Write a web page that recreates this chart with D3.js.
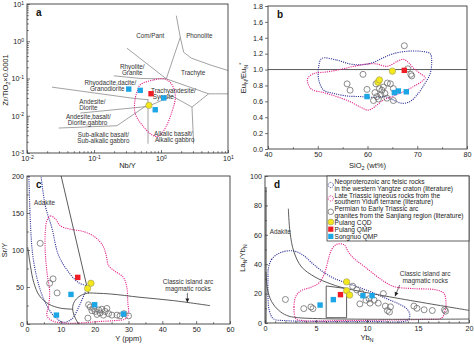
<!DOCTYPE html>
<html>
<head>
<meta charset="utf-8">
<script src="https://cdn.jsdelivr.net/npm/d3@7"></script>
<style>
    body { margin: 0; background: #fff; }
    svg { display: block; font-family: "Liberation Sans", Arial, sans-serif; }
</style>
</head>
<body>
<svg id="chart" width="474" height="345"></svg>
<script>
// ---- panel a: Zr/TiO2*0.0001 vs Nb/Y ----
const aBlue = [[0.33, 0.052], [0.49, 0.048], [1.10, 0.030], [0.82, 0.0145]];
const aRed = [[0.71, 0.039]];
const aYellow = [[0.66, 0.019]];
const aYidun = [[0.49, 0.068], [0.78, 0.092], [1.16, 0.096], [1.46, 0.068], [1.64, 0.033], [1.46, 0.013],
    [1.16, 0.0047], [0.92, 0.0028], [0.73, 0.0031], [0.52, 0.0057], [0.41, 0.0118], [0.41, 0.027], [0.45, 0.050]];
const aFieldLines = [
    [[1.69, 4.87], [1.94, 1.28]],
    [[1.94, 1.28], [2.18, 0.507], [2.84, 0.351], [5.77, 0.223], [10, 0.164]],
    [[1.94, 1.28], [1.20, 0.098]],
    [[0.311, 0.65], [1.20, 0.098]],
    [[0.197, 0.118], [0.5, 0.1], [1.20, 0.098]],
    [[1.20, 0.098], [5.14, 0.0388], [10, 0.0388]],
    [[0.0236, 0.0586], [0.369, 0.0297], [0.64, 0.0268]],
    [[0.0625, 0.0118], [0.64, 0.0178], [1.46, 0.034]],
    [[0.0297, 0.00468], [0.22, 0.0054], [0.64, 0.020]],
    [[0.64, 0.028], [0.64, 0.00178]],
    [[1.46, 0.034], [2.90, 0.0171], [5.14, 0.0388]],
    [[2.90, 0.0171], [3.07, 0.00178]]
];
const aFieldNames = [
    ['Com/Pant', 0.69, 1.39], ['Phonolite', 3.73, 1.39], ['Rhyolite/', 0.373, 0.205], ['Granite', 0.373, 0.142],
    ['Trachyte', 3.03, 0.142], ['Rhyodacite,dacite/', 0.175, 0.0766], ['Granodiorite', 0.158, 0.0528],
    ['Trachyandesite/', 1.53, 0.0467], ['Syenite', 1.08, 0.0323], ['Andesite/', 0.0944, 0.0237],
    ['Diorite', 0.0822, 0.0164], ['Andesite,basalt/', 0.0822, 0.0094], ['Diorite,gabbro', 0.08, 0.0065],
    ['Sub-alkalic basalt/', 0.138, 0.0031], ['Sub-alkalic gabbro', 0.138, 0.00214],
    ['Alkalic basalt/', 1.53, 0.0033], ['Alkalic gabbro', 1.6, 0.00228]
];
const aTicksX = [0.01, 0.1, 1, 10];
const aTicksY = [0.001, 0.01, 0.1, 1, 10];

// ---- panel b: Eu/Eu* vs SiO2 ----
const bGrey = [[67.4, 1.30], [59.1, 0.94], [55.9, 0.82], [56.5, 0.74], [59.9, 0.75], [68.1, 1.01], [68.7, 0.94],
    [68.9, 0.92], [64.6, 0.82], [65.2, 0.76], [65.2, 0.61], [61.5, 0.71], [61.9, 0.66], [62.2, 0.63], [62.9, 0.74],
    [63.2, 0.78], [63.5, 0.70], [63.9, 0.64], [62.7, 0.68], [62.4, 0.76], [61.2, 0.61], [61.7, 0.82], [64.0, 0.83]];
const bYellow = [[62.1, 0.84], [62.4, 0.87], [65.0, 0.98]];
const bRed = [[67.4, 0.99]];
const bBlue = [[59.9, 0.66], [65.4, 0.71], [66.2, 0.73], [67.8, 0.72]];
const bYangtze = [[50.8, 1.14], [53.8, 1.12], [56.5, 1.07], [58.9, 1.06], [61.2, 1.09], [63.2, 1.15], [65.2, 1.20],
    [67.9, 1.23], [70.6, 1.23], [72.6, 1.20], [72.9, 1.10], [72.6, 0.95], [71.6, 0.83], [70.2, 0.70], [68.6, 0.60],
    [66.9, 0.575], [65.2, 0.617], [63.5, 0.66], [61.2, 0.65], [58.5, 0.66], [55.9, 0.667], [53.2, 0.70],
    [51.2, 0.74], [50.2, 0.87], [50.2, 1.04]];
const bYidun = [[48.0, 0.89], [49.2, 0.95], [51.8, 0.97], [54.5, 1.00], [57.2, 1.04], [59.9, 1.07], [61.9, 1.07],
    [63.9, 1.04], [66.2, 1.11], [67.2, 1.13], [68.2, 1.09], [69.2, 1.02], [70.6, 0.95], [71.6, 0.90], [70.9, 0.85],
    [69.2, 0.785], [67.2, 0.72], [65.2, 0.667], [63.2, 0.617], [61.9, 0.554], [60.2, 0.49], [58.5, 0.53],
    [56.5, 0.596], [53.8, 0.66], [51.2, 0.71], [48.8, 0.75], [48.0, 0.83]];
const bTicksX = [40, 50, 60, 70, 80];
const bTicksY = [0, 0.2, 0.4, 0.6, 0.8, 1.0, 1.2, 1.4, 1.6, 1.8];

// ---- panel c: Sr/Y vs Y ----
const cGrey = [[3.9, 109], [7.7, 61], [6.7, 55], [8.9, 42], [18.0, 8], [18.2, 26], [18.7, 23], [19.7, 21],
    [20.2, 17], [21.2, 19], [20.7, 13], [22.1, 20], [21.6, 15], [23.1, 17], [23.6, 21], [24.1, 14], [25.1, 12],
    [26.6, 12], [27.5, 11], [28.7, 14], [30.0, 11], [19.2, 18], [22.6, 12]];
const cYellow = [[18.9, 55], [17.9, 48]];
const cRed = [[15.0, 63]];
const cBlue = [[13.0, 40], [8.7, 12], [20.0, 26], [28.5, 13.5]];
const cYangtze = [[3.9, 210], [5.4, 160], [7.4, 129], [9.3, 93], [12.3, 70], [15.2, 56], [17.9, 50], [17.2, 43],
    [15.5, 25], [13.3, 7], [10.8, 2.3], [7.9, 11], [4.9, 34], [3.0, 61], [1.7, 93], [1.0, 138], [0.5, 210]];
const cYidun = [[5.9, 140], [6.9, 146], [8.4, 142], [9.8, 133], [12.8, 128], [16.7, 125], [20.2, 117], [22.4, 106],
    [23.4, 93], [24.1, 79], [26.1, 71], [28.5, 63], [29.5, 50], [29.8, 29], [30.0, 13.5], [29.0, 6.8], [25.6, 4.5],
    [20.7, 3.2], [15.7, 1.4], [10.8, 1.4], [7.4, 4.5], [5.9, 11], [6.4, 25], [6.7, 43], [5.9, 70], [5.4, 97], [5.4, 124]];
const cAdakiteLine = [[9.84, 205], [18.2, 41]];
const cLeftCurve = [[0.2, 104], [1.0, 79], [2.0, 56], [3.7, 38], [6.4, 27], [9.8, 21.5], [13.6, 20]];
const cArc = [[18.2, 42], [16.2, 39.3], [14.6, 33.9], [13.6, 25.7], [13.6, 16.7], [14.3, 7.7], [15.3, 0]];
const cArcLine = [[18.2, 42], [24.6, 40.6], [33.4, 36.1], [43.3, 31.6], [54.1, 24.8]];
const cArrow = [[47.4, 42], [47.4, 29]];
const cTicksX = [0, 10, 20, 30, 40, 50, 60];
const cTicksY = [0, 50, 100, 150, 200];

// ---- panel d: LaN/YbN vs YbN ----
const dGrey = [[2.0, 16], [3.8, 9.8], [4.5, 10.9], [4.7, 9.8], [8.6, 25], [9.0, 22.5], [9.4, 20.5], [9.3, 13],
    [9.9, 15.5], [10.2, 16.5], [10.3, 13.5], [10.7, 15.5], [11.1, 13.5], [11.6, 20], [11.8, 11.5], [12.0, 8.5],
    [12.2, 7.5], [12.3, 11], [14.6, 11.5], [14.9, 10], [15.6, 9], [16.4, 8.5], [17.6, 9], [17.7, 8]];
const dYellow = [[8.0, 28], [8.0, 22], [8.3, 19]];
const dRed = [[7.4, 19.3]];
const dBlue = [[5.4, 12.2], [6.7, 15.9], [9.6, 18.6], [10.5, 18.6]];
const dYangtze = [[0.33, 37.0], [0.65, 43.3], [1.31, 47.2], [2.12, 49.0], [2.94, 48.8], [3.76, 46.0], [4.58, 41.0],
    [5.56, 35.4], [6.70, 30.6], [8.0, 27.2], [9.31, 24.0], [10.6, 20.6], [11.9, 16.6], [13.2, 12.7], [13.95, 9.3],
    [14.2, 5.2], [13.95, 1.8], [10.3, 1.1], [5.4, 1.1], [2.12, 1.6], [0.82, 2.9], [0.42, 8.6], [0.29, 18.8], [0.29, 30.2]];
const dYidun = [[3.04, 2.9], [2.84, 10.9], [3.04, 18.4], [3.59, 22.2], [4.58, 24.5], [5.39, 27.9], [5.88, 34.7],
    [6.21, 43.3], [6.54, 50.1], [7.03, 53.5], [7.75, 53.3], [8.17, 48.3], [8.82, 43.3], [9.80, 38.1], [11.27, 30.2],
    [12.58, 24.9], [14.54, 23.4], [16.83, 22.5], [17.55, 20.0], [17.75, 13.2], [17.61, 7.5], [17.32, 3.4],
    [15.52, 2.5], [11.93, 2.0], [7.03, 1.6], [3.76, 1.6]];
const dAdakiteCurve = [[2.29, 77.8], [2.45, 61.9], [2.84, 48.3], [3.59, 38.1], [4.90, 31.3], [6.37, 26.8], [8.0, 23.4], [20, 8.6]];
const dLowerCurve = [[0.1, 34.7], [0.23, 23.4], [0.65, 14.5], [1.31, 8.8], [2.12, 5.2], [3.27, 3.6], [20, 2.7]];
const dAxisLine = [[0.1, 0], [0.1, 92.5]];
const dBox = [[6.0, 25.2], [8.0, 23.4], [8.0, 3.6], [6.0, 3.6], [6.0, 25.2]];
const dArrow = [[13.2, 25.9], [12.75, 18.2]];
const dTicksX = [0, 5, 10, 15, 20];
const dTicksY = [0, 20, 40, 60, 80, 100];

const legendItems = [
    { kind: 'yangtze', lines: ['Neoproterozoic arc felsic rocks', 'in the western Yangtze craton (literature)'] },
    { kind: 'yidun', lines: ['Late Triassic igneous rocks from the', 'southern Yidun terrane (literature)'] },
    { kind: 'grey', lines: ['Permian  to  Early  Triassic arc', 'granites from the  Sanjiang region (literature)'] },
    { kind: 'yellow', lines: ['Pulang CQD'] },
    { kind: 'red', lines: ['Pulang QMP'] },
    { kind: 'blue', lines: ['Songnuo QMP'] }
];

const COL = {
    blue: '#1ca6e6', red: '#ee1c24', yellow: '#f4e81c', grey: '#6f6f6f',
    yangtze: '#2b2f94', yidun: '#e01b84', line: '#4a4a4a', field: '#8a8a8a', frame: '#3a3a3a'
};

const svg = d3.select('#chart');
const defs = svg.append('defs');

function setupPanel(id, x, y) {
    const [x0, x1] = x.range();
    const [y1, y0] = y.range();
    defs.append('clipPath').attr('id', 'clip-' + id)
        .append('rect').attr('x', x0).attr('y', y0).attr('width', x1 - x0).attr('height', y1 - y0);
    const g = svg.append('g');
    const plot = g.append('g').attr('clip-path', `url(#clip-${id})`);
    return { id, g, plot, x, y, x0, x1, y0, y1 };
}

function styleAxis(sel) {
    sel.select('.domain').remove();
    sel.attr('font-family', null).attr('font-size', 7.2);
    sel.selectAll('.tick line').attr('stroke', COL.frame).attr('stroke-width', 0.7);
    sel.selectAll('.tick text').attr('fill', '#222');
}

function drawAxes(p, o) {
    const bx = p.g.append('g').attr('transform', `translate(0,${p.y1})`)
        .call(d3.axisBottom(p.x).tickValues(o.xTicks).tickSize(-3).tickPadding(3).tickFormat(o.xFormat || null))
        .call(styleAxis);
    const ly = p.g.append('g').attr('transform', `translate(${p.x0},0)`)
        .call(d3.axisLeft(p.y).tickValues(o.yTicks).tickSize(o.yOut ? 3 : -3).tickPadding(o.yOut ? 2 : 3)
            .tickFormat(o.yFormat || null))
        .call(styleAxis);
    if (o.xMinor) {
        p.g.append('g').attr('transform', `translate(0,${p.y1})`)
            .call(d3.axisBottom(p.x).tickValues(o.xMinor).tickSize(-1.8).tickFormat(''))
            .call(styleAxis);
    }
    if (o.yMinor) {
        p.g.append('g').attr('transform', `translate(${p.x0},0)`)
            .call(d3.axisLeft(p.y).tickValues(o.yMinor).tickSize(-1.8).tickFormat(''))
            .call(styleAxis);
    }
    p.g.append('rect')
        .attr('x', p.x0).attr('y', p.y0).attr('width', p.x1 - p.x0).attr('height', p.y1 - p.y0)
        .attr('fill', 'none').attr('stroke', COL.frame).attr('stroke-width', 0.9);
    return { bx, ly };
}

function powerLabels(axis) {
    axis.selectAll('.tick text').each(function(d) {
        const t = d3.select(this).text('10');
        t.append('tspan').attr('dy', '-0.45em').attr('font-size', 5).text(Math.round(Math.log10(d)));
    });
}

function logMinor(lo, hi) {
    const out = [];
    for (let e = lo; e < hi; e++) {
        for (let m = 2; m <= 9; m++) out.push(m * Math.pow(10, e));
    }
    return out;
}

function path(p, pts, curve, stroke, width, dash, layer) {
    const gen = d3.line().x(d => p.x(d[0])).y(d => p.y(d[1])).curve(curve || d3.curveLinear);
    return (layer || p.plot).append('path')
        .attr('d', gen(pts))
        .attr('fill', 'none')
        .attr('stroke', stroke)
        .attr('stroke-width', width)
        .attr('stroke-dasharray', dash || null)
        .attr('stroke-linejoin', 'round');
}

function dotted(p, pts, color, closed) {
    return path(p, pts, closed ? d3.curveCatmullRomClosed.alpha(0.5) : d3.curveCatmullRom.alpha(0.5),
        color, 1.1, '1.1,1.1');
}

function markers(p, grey, blue, red, yellow) {
    const g = p.g.append('g');
    g.selectAll(null).data(grey).join('circle')
        .attr('cx', d => p.x(d[0])).attr('cy', d => p.y(d[1])).attr('r', 3)
        .attr('fill', 'none').attr('stroke', COL.grey).attr('stroke-width', 0.8);
    g.selectAll(null).data(blue).join('rect')
        .attr('x', d => p.x(d[0]) - 2.7).attr('y', d => p.y(d[1]) - 2.7)
        .attr('width', 5.4).attr('height', 5.4).attr('fill', COL.blue);
    g.selectAll(null).data(red).join('rect')
        .attr('x', d => p.x(d[0]) - 2.7).attr('y', d => p.y(d[1]) - 2.7)
        .attr('width', 5.4).attr('height', 5.4).attr('fill', COL.red);
    g.selectAll(null).data(yellow).join('circle')
        .attr('cx', d => p.x(d[0])).attr('cy', d => p.y(d[1])).attr('r', 3.2)
        .attr('fill', COL.yellow).attr('stroke', '#9a9a60').attr('stroke-width', 0.6);
}

function panelLetter(p, letter) {
    p.g.append('text').attr('x', p.x0 + 9).attr('y', p.y0 + 12)
        .attr('font-size', 10).attr('font-weight', 'bold').attr('fill', '#111').text(letter);
}

function xTitle(p, parts, y) {
    const t = p.g.append('text').attr('x', (p.x0 + p.x1) / 2).attr('y', y)
        .attr('text-anchor', 'middle').attr('font-size', 7.5).attr('fill', '#222');
    addParts(t, parts);
}

function yTitle(p, parts, x, cy) {
    const t = p.g.append('text').attr('transform', `translate(${x},${cy}) rotate(-90)`)
        .attr('text-anchor', 'middle').attr('font-size', 7.5).attr('fill', '#222');
    addParts(t, parts);
}

// parts: [text, 'sub'|'sup'|null]
function addParts(t, parts) {
    let shift = 0;
    parts.forEach(([s, kind]) => {
        const target = kind === 'sub' ? 2 : kind === 'sup' ? -3 : 0;
        t.append('tspan').attr('dy', target - shift).attr('font-size', kind ? 5.5 : null).text(s);
        shift = target;
    });
}

function note(p, txt, x, y, size) {
    p.g.append('text').attr('x', p.x(x)).attr('y', p.y(y))
        .attr('text-anchor', 'middle').attr('dominant-baseline', 'central')
        .attr('font-size', size || 6).attr('fill', '#333').text(txt);
}

function arrow(p, pts) {
    const [a, b] = pts;
    path(p, pts, null, COL.line, 0.8, null, p.g);
    const bx = p.x(b[0]), by = p.y(b[1]);
    const ang = Math.atan2(by - p.y(a[1]), bx - p.x(a[0]));
    const L = 4, W = 2;
    const pt = (dx, dy) => [bx + dx * Math.cos(ang) - dy * Math.sin(ang), by + dx * Math.sin(ang) + dy * Math.cos(ang)];
    p.g.append('path')
        .attr('d', d3.line()([pt(0, 0), pt(-L, -W), pt(-L, W)]) + 'Z')
        .attr('fill', '#222');
}

// ================= panel a =================
const pa = setupPanel('a',
    d3.scaleLog().domain([0.01, 10]).range([27, 228]),
    d3.scaleLog().domain([0.001, 10]).range([153, 4]));
aFieldLines.forEach(l => path(pa, l, null, COL.field, 0.8));
dotted(pa, aYidun, COL.yidun, true);
aFieldNames.forEach(([t, x, y]) => note(pa, t, x, y, 6.3));
const axA = drawAxes(pa, {
    xTicks: aTicksX, yTicks: aTicksY, xMinor: logMinor(-2, 1), yMinor: logMinor(-3, 1)
});
powerLabels(axA.bx);
powerLabels(axA.ly);
markers(pa, [], aBlue, aRed, aYellow);
panelLetter(pa, 'a');
xTitle(pa, [['Nb/Y']], 168);
yTitle(pa, [['Zr/TiO'], ['2', 'sub'], ['×0.0001']], 8, 80);

// ================= panel b =================
const pb = setupPanel('b',
    d3.scaleLinear().domain([40, 80]).range([268, 467]),
    d3.scaleLinear().domain([0, 1.8]).range([149, 6]));
path(pb, [[40, 1], [80, 1]], null, COL.line, 0.9);
dotted(pb, bYangtze, COL.yangtze, true);
dotted(pb, bYidun, COL.yidun, true);
drawAxes(pb, {
    xTicks: bTicksX, yTicks: bTicksY, xMinor: [45, 55, 65, 75], yOut: true,
    xFormat: d3.format('d'), yFormat: d3.format('.1f')
});
markers(pb, bGrey, bBlue, bRed, bYellow);
panelLetter(pb, 'b');
xTitle(pb, [['SiO'], ['2', 'sub'], [' (wt%)']], 168);
yTitle(pb, [['Eu'], ['N', 'sub'], ['/Eu'], ['N', 'sub'], ['*', 'sup']], 246, 78);

// ================= panel c =================
const pc = setupPanel('c',
    d3.scaleLinear().domain([0, 60]).range([27, 230]),
    d3.scaleLinear().domain([0, 200]).range([324, 176]));
dotted(pc, cYangtze, COL.yangtze, false);
dotted(pc, cYidun, COL.yidun, true);
path(pc, cAdakiteLine, null, COL.line, 0.9);
path(pc, cLeftCurve, d3.curveCatmullRom, COL.line, 0.9);
path(pc, cArc, d3.curveCatmullRom, COL.line, 0.9);
path(pc, cArcLine, d3.curveCatmullRom, COL.line, 0.9);
drawAxes(pc, {
    xTicks: cTicksX, yTicks: cTicksY, xMinor: d3.range(5, 60, 10), yMinor: d3.range(25, 200, 50),
    xFormat: d3.format('d'), yFormat: d3.format('d')
});
markers(pc, cGrey, cBlue, cRed, cYellow);
note(pc, 'Adakite', 5.2, 164, 6.3);
note(pc, 'Classic island arc', 47.6, 57, 6.5);
note(pc, 'magmatic rocks', 47.6, 47.5, 6.5);
arrow(pc, cArrow);
panelLetter(pc, 'c');
xTitle(pc, [['Y (ppm)']], 341);
yTitle(pc, [['Sr/Y']], 7, 250);

// ================= panel d =================
const pd = setupPanel('d',
    d3.scaleLinear().domain([0, 20]).range([265, 469]),
    d3.scaleLinear().domain([0, 100]).range([323, 176]));
path(pd, dAxisLine, null, '#9a9a9a', 2);
dotted(pd, dYangtze, COL.yangtze, true);
dotted(pd, dYidun, COL.yidun, true);
path(pd, dAdakiteCurve, d3.curveCatmullRom, COL.line, 0.9);
path(pd, dLowerCurve, d3.curveCatmullRom, COL.line, 0.9);
path(pd, dBox, null, COL.line, 0.9);
drawAxes(pd, {
    xTicks: dTicksX, yTicks: dTicksY, xMinor: d3.range(1, 20).filter(v => v % 5), yMinor: d3.range(10, 100, 20),
    xFormat: d3.format('d'), yFormat: d3.format('d')
});
markers(pd, dGrey, dBlue, dRed, dYellow);
note(pd, 'Adakite', 1.5, 62, 6.3);
note(pd, 'Classic island arc', 15.7, 33.5, 6.5);
note(pd, 'magmatic rocks', 15.7, 29, 6.5);
arrow(pd, dArrow);
panelLetter(pd, 'd');
xTitle(pd, [['Yb'], ['N', 'sub']], 340);
yTitle(pd, [['La'], ['N', 'sub'], ['/Yb'], ['N', 'sub']], 245, 258);

// legend
const lg = pd.g.append('g');
lg.append('rect').attr('x', 327).attr('y', 176).attr('width', 142).attr('height', 65)
    .attr('fill', '#fff').attr('stroke', COL.frame).attr('stroke-width', 0.8);
let ly = 181.8;
legendItems.forEach(item => {
    const n = item.lines.length;
    const cy = ly + (n - 1) * 3.2;
    const icon = lg.append('g').attr('transform', `translate(330.8,${cy})`);
    if (item.kind === 'yangtze' || item.kind === 'yidun') {
        icon.append('circle').attr('r', 2.6).attr('fill', 'none').attr('stroke', COL[item.kind])
            .attr('stroke-width', 0.9).attr('stroke-dasharray', '1,0.9');
    } else if (item.kind === 'grey') {
        icon.append('circle').attr('r', 2.8).attr('fill', 'none').attr('stroke', COL.grey).attr('stroke-width', 0.8);
    } else if (item.kind === 'yellow') {
        icon.append('circle').attr('r', 3).attr('fill', COL.yellow).attr('stroke', '#9a9a60').attr('stroke-width', 0.6);
    } else {
        icon.append('rect').attr('x', -2.6).attr('y', -2.6).attr('width', 5.2).attr('height', 5.2).attr('fill', COL[item.kind]);
    }
    item.lines.forEach((s, i) => {
        lg.append('text').attr('x', 334.5).attr('y', ly + i * 6.4).attr('dominant-baseline', 'central')
            .attr('font-size', 6.6).attr('fill', '#222').text(s);
    });
    ly += n * 6.4 + (n > 1 ? 0.6 : 0.8);
});
</script>
</body>
</html>
